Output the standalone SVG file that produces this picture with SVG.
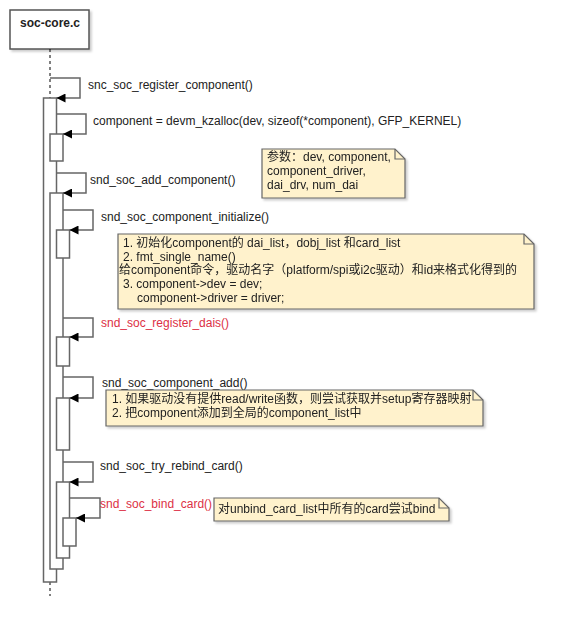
<svg xmlns="http://www.w3.org/2000/svg" width="575" height="636" viewBox="0 0 575 636">
<style>
text{font-family:"Liberation Sans","Noto Sans CJK SC",sans-serif;font-size:12px;fill:#222}
.red{fill:#dc2f45}
.act{fill:#fff;stroke:#666;stroke-width:1.5}
.msg{fill:none;stroke:#666;stroke-width:1.5;marker-end:url(#arr)}
.note{fill:#fff2cc;stroke:#666;stroke-width:1.2}
.fold{fill:none;stroke:#666;stroke-width:1.2}
.life{stroke:#000;stroke-width:1;stroke-dasharray:3 3}
</style>
<defs>
<marker id="arr" viewBox="0 0 10 10" refX="10" refY="5" markerWidth="10" markerHeight="9" markerUnits="userSpaceOnUse" orient="auto"><path d="M0,0 L10,5 L0,10 z" fill="#000"/></marker>
<filter id="sh" x="-10%" y="-10%" width="130%" height="140%"><feDropShadow dx="2" dy="2" stdDeviation="1" flood-color="#000" flood-opacity="0.2"/></filter>
</defs>
<rect width="575" height="636" fill="#fff"/>

<g id="soc-core">
<rect x="10" y="10" width="79" height="39" fill="#fff" stroke="#555" stroke-width="1.5" filter="url(#sh)"/>
<text x="50" y="27" text-anchor="middle" font-weight="bold">soc-core.c</text>
<line class="life" x1="50" y1="49" x2="50" y2="98"/>
<line class="life" x1="50" y1="582" x2="50" y2="596"/>
</g>

<g id="act-register-component"><rect class="act" x="43.5" y="98" width="13" height="484"/></g>
<g id="act-kzalloc"><rect class="act" x="50" y="134" width="13" height="27"/></g>
<g id="act-add-component"><rect class="act" x="50" y="193" width="13" height="376"/></g>
<g id="act-initialize"><rect class="act" x="56.5" y="230" width="13" height="28"/></g>
<g id="act-register-dais"><rect class="act" x="56.5" y="337" width="13" height="29"/></g>
<g id="act-component-add"><rect class="act" x="56.5" y="398" width="13" height="52"/></g>
<g id="act-try-rebind"><rect class="act" x="56.5" y="482" width="13" height="76"/></g>
<g id="act-bind-card"><rect class="act" x="63" y="518" width="13" height="28"/></g>

<g id="connectors">
<path class="msg" d="M50,78 H80 V98 H56.5"/>
<text x="88" y="89">snc_soc_register_component()</text>
<path class="msg" d="M56.5,114 H86 V134 H63"/>
<text x="93" y="125">component = devm_kzalloc(dev, sizeof(*component), GFP_KERNEL)</text>
<path class="msg" d="M56.5,173 H86 V193 H63"/>
<text x="90" y="184">snd_soc_add_component()</text>
<path class="msg" d="M63,210 H93 V230 H69.5"/>
<text x="101" y="221">snd_soc_component_initialize()</text>
<path class="msg" d="M63,318 H93 V337 H69.5"/>
<text x="101" y="327" class="red">snd_soc_register_dais()</text>
<path class="msg" d="M63,377 H93 V398 H69.5"/>
<text x="102" y="387">snd_soc_component_add()</text>
<path class="msg" d="M63,462 H93 V482 H69.5"/>
<text x="100" y="470">snd_soc_try_rebind_card()</text>
<path class="msg" d="M69.5,498 H100 V518 H76"/>
<text x="100" y="508" class="red">snd_soc_bind_card()</text>
</g>

<g id="note-params" filter="url(#sh)">
<path class="note" d="M262,149 H395 L405,159 V198 H262 Z"/>
<path class="fold" d="M395,149 V159 H405"/>
<text x="267" y="161">参数：dev, component,</text>
<text x="267" y="175">component_driver,</text>
<text x="267" y="189">dai_drv, num_dai</text>
</g>

<g id="note-initialize" filter="url(#sh)">
<path class="note" d="M118,234 H524 L534,244 V309 H118 Z"/>
<path class="fold" d="M524,234 V244 H534"/>
<text x="123" y="247">1. 初始化component的 dai_list，dobj_list 和card_list</text>
<text x="123" y="261">2. fmt_single_name()</text>
<text x="119" y="274">给component命令，驱动名字（platform/spi或i2c驱动）和id来格式化得到的</text>
<text x="123" y="288">3. component-&gt;dev = dev;</text>
<text x="137" y="302">component-&gt;driver = driver;</text>
</g>

<g id="note-component-add" filter="url(#sh)">
<path class="note" d="M106,390 H473 L483,400 V426 H106 Z"/>
<path class="fold" d="M473,390 V400 H483"/>
<text x="112" y="403">1. 如果驱动没有提供read/write函数，则尝试获取并setup寄存器映射</text>
<text x="112" y="417">2. 把component添加到全局的component_list中</text>
</g>

<g id="note-bind-card" filter="url(#sh)">
<path class="note" d="M214,498 H439 L449,508 V521 H214 Z"/>
<path class="fold" d="M439,498 V508 H449"/>
<text x="218" y="513">对unbind_card_list中所有的card尝试bind</text>
</g>
</svg>
